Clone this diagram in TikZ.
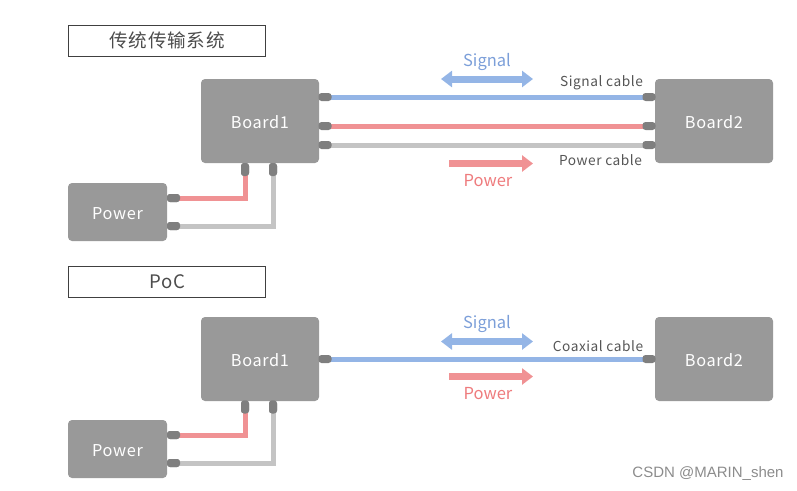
\documentclass[tikz,border=0pt]{standalone}
\usepackage{fontspec}
\usepackage{xcolor}
\setmainfont{Noto Sans CJK SC}
\newfontfamily\markfont{Liberation Sans}
\newfontfamily\widefont[LetterSpace=4]{Noto Sans CJK SC}
\usetikzlibrary{arrows.meta}
\definecolor{boardgray}{HTML}{999999}
\definecolor{portgray}{HTML}{7F7F7F}
\definecolor{sigblue}{HTML}{94B5E6}
\definecolor{powred}{HTML}{F09294}
\definecolor{cablegray}{HTML}{C4C4C4}
\definecolor{sigtext}{HTML}{7C9FD9}
\definecolor{powtext}{HTML}{EE7B7D}
\definecolor{labeltext}{HTML}{555555}
\tikzstyle{board} = [rectangle, rounded corners=4pt, inner sep=0pt, fill=boardgray, text=white, text height=14pt, text depth=0pt, font=\widefont\fontsize{16.3}{18}\selectfont]
\tikzstyle{title} = [rectangle, minimum width=197pt, minimum height=31pt, inner sep=0pt, draw=black!75, line width=0.9pt, text=black!70, font=\widefont\fontsize{18.6}{20}\selectfont]
\tikzstyle{porth} = [rectangle, rounded corners=3pt, minimum width=13pt, minimum height=8pt, inner sep=0pt, fill=portgray]
\tikzstyle{portv} = [rectangle, rounded corners=3pt, minimum width=8pt, minimum height=13pt, inner sep=0pt, fill=portgray]
\tikzstyle{cable} = [line width=5pt]
\tikzstyle{bigarrow} = [line width=7pt, -{Triangle[length=11pt,width=16pt]}]
\tikzstyle{bigboth} = [line width=7pt, {Triangle[length=11pt,width=16pt]}-{Triangle[length=11pt,width=16pt]}]
\tikzstyle{flow} = [font=\fontsize{16.5}{18}\selectfont, inner sep=0pt]
\tikzstyle{cablelabel} = [text=labeltext, font=\widefont\fontsize{13.7}{16}\selectfont, inner sep=0pt]

\begin{document}
\begin{tikzpicture}[x=1pt, y=-1pt]
    \useasboundingbox (0,0) rectangle (797,490);

    % upper part
    \node (titleA) [title] at (167,40.5) {传统传输系统};
    \node (boardA) [board, minimum width=118pt, minimum height=84pt] at (260,121) {Board1};
    \node (boardB) [board, minimum width=118pt, minimum height=84pt] at (714,121) {Board2};
    \node (powerA) [board, minimum width=99pt, minimum height=58pt] at (117.5,212) {Power};

    \draw [cable, sigblue] (325,97) coordinate (aS) -- (649,97) coordinate (bS);
    \draw [cable, powred] (325,126) coordinate (aP) -- (649,126) coordinate (bP);
    \draw [cable, cablegray] (325,145) coordinate (aG) -- (649,145) coordinate (bG);
    \node (portAS) [porth] at (aS) {};
    \node (portAP) [porth] at (aP) {};
    \node (portAG) [porth] at (aG) {};
    \node (portBS) [porth] at (bS) {};
    \node (portBP) [porth] at (bP) {};
    \node (portBG) [porth] at (bG) {};

    \node (portDP) [portv] at (245,169.5) {};
    \node (portDG) [portv] at (273,169.5) {};
    \node (portPP) [porth] at (173.5,198) {};
    \node (portPG) [porth] at (173.5,226) {};
    \draw [cable, powred] (portPP.center) -| (portDP.center);
    \draw [cable, cablegray] (portPG.center) -| (portDG.center);
    \node [portv] at (portDP) {};
    \node [portv] at (portDG) {};
    \node [porth] at (portPP) {};
    \node [porth] at (portPG) {};

    \coordinate (sigL) at (441,79);
    \coordinate (sigR) at (533,79);
    \coordinate (powL) at (449,163.5);
    \coordinate (powR) at (533,163.5);
    \draw [bigboth, sigblue] (sigL) -- (sigR);
    \draw [bigarrow, powred] (powL) -- (powR);
    \node (sigA) [flow, text=sigtext] at (487,62) {Signal};
    \node (powA) [flow, text=powtext] at (488,181) {Power};
    \node (labS) [cablelabel] at (601.5,82.5) {Signal cable};
    \node (labP) [cablelabel] at (600.5,160) {Power cable};

    % lower part
    \node (titleB) [title] at (167,281.5) {PoC};
    \node (boardC) [board, minimum width=118pt, minimum height=84pt] at (260,359) {Board1};
    \node (boardD) [board, minimum width=118pt, minimum height=84pt] at (714,359) {Board2};
    \node (powerB) [board, minimum width=99pt, minimum height=58pt] at (117.5,449) {Power};

    \draw [cable, sigblue] (325,359) coordinate (cS) -- (649,359) coordinate (dS);
    \node (portCS) [porth] at (cS) {};
    \node (portDS) [porth] at (dS) {};

    \node (portEP) [portv] at (245,407) {};
    \node (portEG) [portv] at (273,407) {};
    \node (portQP) [porth] at (173.5,435) {};
    \node (portQG) [porth] at (173.5,463) {};
    \draw [cable, powred] (portQP.center) -| (portEP.center);
    \draw [cable, cablegray] (portQG.center) -| (portEG.center);
    \node [portv] at (portEP) {};
    \node [portv] at (portEG) {};
    \node [porth] at (portQP) {};
    \node [porth] at (portQG) {};

    \coordinate (sigC) at (441,341.5);
    \coordinate (sigD) at (533,341.5);
    \coordinate (powC) at (449,376.5);
    \coordinate (powD) at (533,376.5);
    \draw [bigboth, sigblue] (sigC) -- (sigD);
    \draw [bigarrow, powred] (powC) -- (powD);
    \node (sigB) [flow, text=sigtext] at (487,324) {Signal};
    \node (powB) [flow, text=powtext] at (488,394) {Power};
    \node (labC) [cablelabel] at (598,346.5) {Coaxial cable};

    \node (mark) [inner sep=0pt, text=black!45, font=\markfont\fontsize{15}{17}\selectfont] at (708,474) {CSDN @MARIN\_shen};
\end{tikzpicture}
\end{document}
